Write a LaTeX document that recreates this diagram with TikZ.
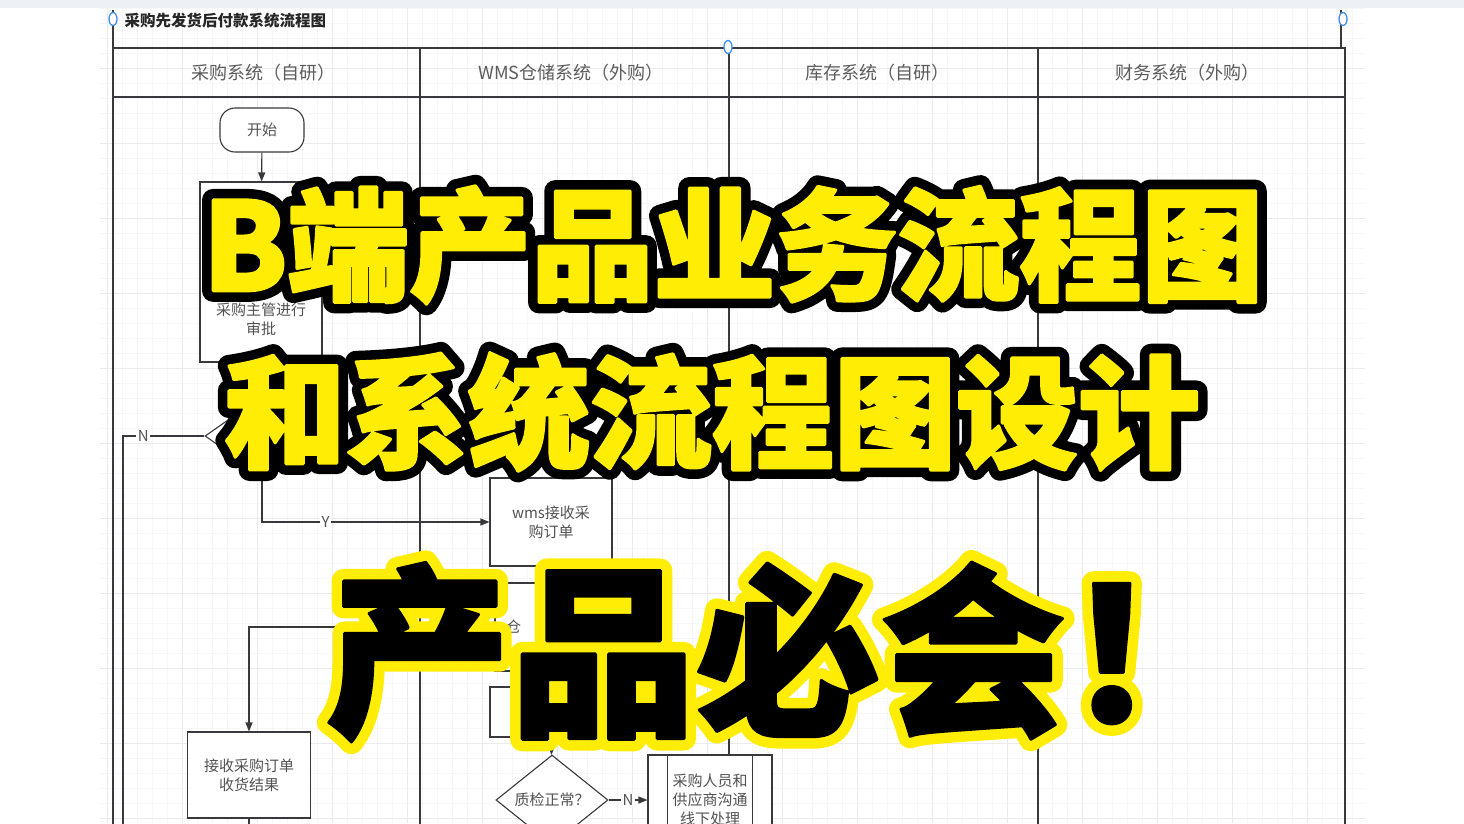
\documentclass[tikz,border=0pt]{standalone}
\usepackage{fontspec}
\usepackage{tikz}
\usetikzlibrary{calc,shapes.geometric,arrows.meta}
\newfontfamily\cjk{Noto Sans CJK SC}
\definecolor{laneline}{rgb}{0.22,0.22,0.24}
\definecolor{boxtext}{rgb}{0.32,0.32,0.32}
\definecolor{headtext}{rgb}{0.36,0.36,0.36}
\definecolor{gridminor}{rgb}{0.968,0.968,0.972}
\definecolor{gridmajor}{rgb}{0.92,0.92,0.93}
\definecolor{handle}{rgb}{0.25,0.55,0.95}
\definecolor{topbar}{rgb}{0.93,0.94,0.955}
\definecolor{banner}{rgb}{1,0.93,0.02}
\newcommand\strokeon[1]{\special{pdf:literal direct 2 Tr #1 w 1 j 1 J}}
\newcommand\strokeoff{\special{pdf:literal direct 0 Tr}}

\begin{document}
\begin{tikzpicture}[x=1pt,y=-1pt,
    pool/.style={draw=laneline,line width=1.4pt},
    flow/.style={draw=laneline,line width=1.1pt},
    arr/.style={flow,-{Triangle[length=9pt,width=7pt]}},
    box/.style={draw=laneline,line width=1.1pt,fill=white,minimum width=122pt,minimum height=88pt,
        inner sep=0pt,align=center,text=boxtext,font=\cjk\fontsize{15}{19}\selectfont},
    boxlabel/.style={inner sep=0pt,align=center,text=boxtext,font=\cjk\fontsize{15}{19}\selectfont},
    term/.style={box,rounded corners=15pt,minimum width=84pt,minimum height=44pt},
    decision/.style={box,diamond,minimum width=114pt,minimum height=80pt},
    tag/.style={fill=white,inner sep=1.5pt,text=boxtext,font=\cjk\fontsize{15}{15}\selectfont},
    lanehead/.style={text=headtext,font=\cjk\fontsize{18}{18}\selectfont},
    grip/.style={ellipse,draw=handle,fill=white,line width=1.3pt,minimum width=8pt,minimum height=13pt,inner sep=0pt},
    bigtext/.style={font=\cjk\bfseries\fontsize{122}{122}\selectfont,inner sep=0pt},
    hugetext/.style={font=\cjk\bfseries\fontsize{185}{185}\selectfont,inner sep=0pt}]
    \useasboundingbox (0,0) rectangle (1464,823);
    \fill[white] (0,0) rectangle (1464,823);
    \fill[topbar] (0,0) rectangle (1464,8);
    % grid of the canvas
    \begin{scope}
        \clip (100,8) rectangle (1365,823);
        \foreach \gx in {107,122,...,1367} \draw[gridminor,line width=0.8pt] (\gx,8) -- (\gx,823);
        \foreach \gy in {8,23,...,823} \draw[gridminor,line width=0.8pt] (100,\gy) -- (1365,\gy);
        \foreach \gx in {107,182,...,1367} \draw[gridmajor,line width=0.9pt] (\gx,8) -- (\gx,823);
        \foreach \gy in {68,143,...,823} \draw[gridmajor,line width=0.9pt] (100,\gy) -- (1365,\gy);
    \end{scope}
    % pool and lanes
    \draw[pool] (113,10) -- (113,48);
    \draw[pool] (1341,10) -- (1341,48);
    \draw[pool] (113,48) rectangle (1345,97);
    \foreach \lx in {113,420,729,1038,1345} \draw[pool] (\lx,48) -- (\lx,830);
    \node[anchor=west,text=black!85,font=\cjk\bfseries\fontsize{15.5}{16}\selectfont] (title) at (121,21) {采购先发货后付款系统流程图};
    \node[lanehead] (laneA) at (263,73) {采购系统（自研）};
    \node[lanehead] (laneB) at (571,73) {WMS仓储系统（外购）};
    \node[lanehead] (laneC) at (877,73) {库存系统（自研）};
    \node[lanehead] (laneD) at (1187,73) {财务系统（外购）};
    \node[grip] (gripA) at (113,19) {};
    \node[grip] (gripB) at (728,47) {};
    \node[grip] (gripC) at (1343,19) {};
    % flow
    \node[term] (start) at (262,130) {开始};
    \node[box,minimum height=180pt] (appr) at (261,272) {};
    \node[boxlabel] (apprtxt) at (261,319) {采购主管进行\\审批};
    \node[decision] (dec) at (262,436) {};
    \node[box] (wms) at (551,522) {wms接收采\\购订单};
    \node[box,minimum width=112pt,text width=90pt,align=left] (store) at (551,627) {仓};
    \node[box,minimum height=50pt] (chk) at (551,712) {};
    \node[decision,minimum width=112pt,minimum height=90pt] (qc) at (552,800) {质检正常？};
    \node[box,minimum width=124pt,minimum height=90pt] (proc) at (710,800) {采购人员和\\供应商沟通\\线下处理};
    \draw[flow] ([xshift=20pt]proc.north west) -- ([xshift=20pt]proc.south west);
    \draw[flow] ([xshift=-20pt]proc.north east) -- ([xshift=-20pt]proc.south east);
    \node[box,minimum width=123pt,minimum height=86pt] (recv) at (249,775) {接收采购订单\\收货结果};
    \coordinate (nend) at (123,830);
    \coordinate (recvend) at (249,830);
    \draw[arr] (start) -- (appr);
    \draw[arr] (appr) -- (dec);
    \draw[flow] (dec.west) -- node[tag,pos=0.75] {N} (123,436) -- (nend);
    \draw[arr] (dec.south) |- node[tag,pos=0.64] {Y} (wms.west);
    \draw[arr] (wms) -- (store);
    \draw[arr] (store.west) -| (recv.north);
    \draw[arr] (store) -- (chk);
    \draw[arr] (chk) -- (qc);
    \draw[arr] (qc.east) -- node[tag] {N} (proc.west);
    \draw[flow] (recv.south) -- (recvend);
    % cover title
    \node[bigtext,text=black] (lineAo) at (733,245) {\strokeon{22}B端产品业务流程图\strokeoff};
    \node[bigtext,text=banner] (lineA) at (lineAo) {\strokeon{3}B端产品业务流程图\strokeoff};
    \node[bigtext,text=black] (lineBo) at (712,412) {\strokeon{22}和系统流程图设计\strokeoff};
    \node[bigtext,text=banner] (lineB) at (lineBo) {\strokeon{3}和系统流程图设计\strokeoff};
    \node[hugetext,text=banner] (lineCo) at (788,652) {\strokeon{24}产品必会！\strokeoff};
    \node[hugetext,text=black] (lineC) at (lineCo) {\strokeon{3}产品必会！\strokeoff};
\end{tikzpicture}
\end{document}
